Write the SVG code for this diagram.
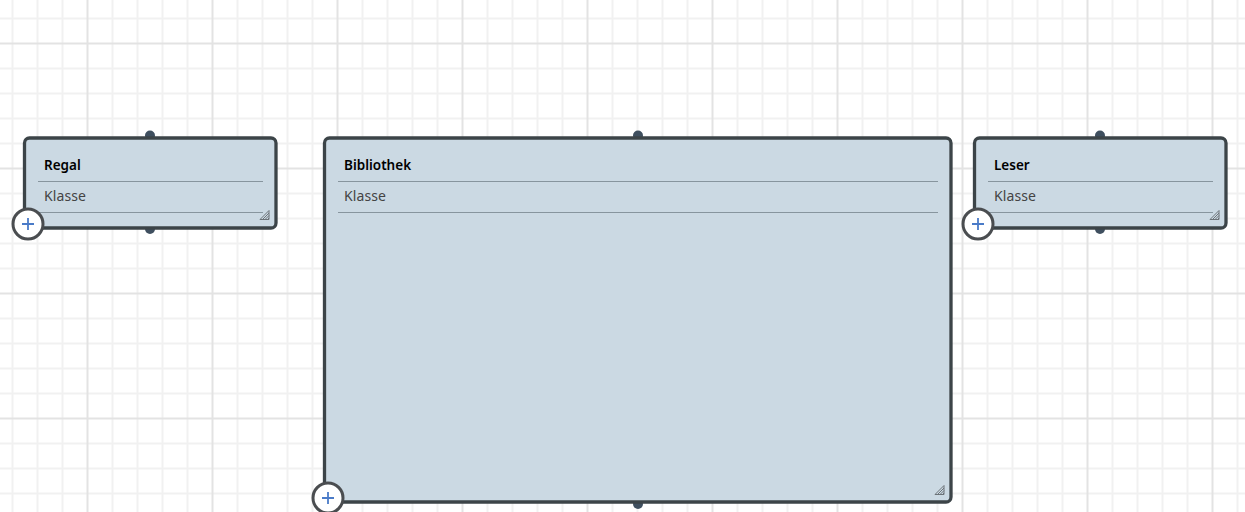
<svg xmlns="http://www.w3.org/2000/svg" width="1245" height="512" viewBox="0 0 1245 512">
<style>
.gm{stroke:#f1f1f1;stroke-width:2;fill:none}
.gM{stroke:#e3e3e3;stroke-width:2;fill:none}
.box{fill:#cbd9e3;stroke:#3c4448;stroke-width:3.300}
.sep{stroke:#87959e;stroke-width:1;fill:none}
.port{fill:#3f4f5f}
.title{font:600 13.500px "Noto Sans","Open Sans",sans-serif;fill:#000}
.kind{font:14px "Noto Sans","Open Sans",sans-serif;fill:#444;letter-spacing:.1px}
.add{fill:#fff;stroke:#4a4d50;stroke-width:3}
.plus{stroke:#4a7bc8;stroke-width:1.800;fill:none}
.grip{fill:none;stroke:#6c7378;stroke-width:1}
</style>
<defs>
<g id="grip"><path class="grip" d="M-9 0L0-9M-6.500 0L0-6.500M-4 0L0-4M-1.500 0L0-1.500M-9 0H0V-9"/></g>
<g id="addBtn"><circle class="add" r="15"/><path class="plus" d="M-6 0H6M0-6V6"/></g>
</defs>
<rect width="1245" height="512" fill="#fff"/>
<g id="grid">
<path class="gm" d="M12.500 0V512M37.500 0V512M62.500 0V512M112.500 0V512M137.500 0V512M162.500 0V512M187.500 0V512M237.500 0V512M262.500 0V512M287.500 0V512M312.500 0V512M362.500 0V512M387.500 0V512M412.500 0V512M437.500 0V512M487.500 0V512M512.500 0V512M537.500 0V512M562.500 0V512M612.500 0V512M637.500 0V512M662.500 0V512M687.500 0V512M737.500 0V512M762.500 0V512M787.500 0V512M812.500 0V512M862.500 0V512M887.500 0V512M912.500 0V512M937.500 0V512M987.500 0V512M1012.500 0V512M1037.500 0V512M1062.500 0V512M1112.500 0V512M1137.500 0V512M1162.500 0V512M1187.500 0V512M1237.500 0V512"/>
<path class="gm" d="M0 18.500H1245M0 68.500H1245M0 93.500H1245M0 118.500H1245M0 143.500H1245M0 193.500H1245M0 218.500H1245M0 243.500H1245M0 268.500H1245M0 318.500H1245M0 343.500H1245M0 368.500H1245M0 393.500H1245M0 443.500H1245M0 468.500H1245M0 493.500H1245"/>
<path class="gM" d="M87.500 0V512M212.500 0V512M337.500 0V512M462.500 0V512M587.500 0V512M712.500 0V512M837.500 0V512M962.500 0V512M1087.500 0V512M1212.500 0V512M0 43.500H1245M0 168.500H1245M0 293.500H1245M0 418.500H1245"/>
</g>
<g id="connectors"></g>
<g id="regal">
<circle class="port" cx="150" cy="135.500" r="5"/><circle class="port" cx="150" cy="229" r="5"/>
<rect class="box" x="24.500" y="138" width="251.500" height="90" rx="5"/>
<text class="title" x="44" y="170">Regal</text>
<path class="sep" d="M38 181.500H263M38 212.500H263"/>
<text class="kind" x="44" y="201">Klasse</text>
<use href="#grip" x="269" y="219.500"/>
<use href="#addBtn" x="28" y="224"/>
</g>
<g id="bibliothek">
<circle class="port" cx="638" cy="135.500" r="5"/><circle class="port" cx="638" cy="504" r="5"/>
<rect class="box" x="324.500" y="138" width="626.500" height="364" rx="5"/>
<text class="title" x="344" y="170">Bibliothek</text>
<path class="sep" d="M338 181.500H938M338 212.500H938"/>
<text class="kind" x="344" y="201">Klasse</text>
<use href="#grip" x="944" y="494.500"/>
<use href="#addBtn" x="328" y="498"/>
</g>
<g id="leser">
<circle class="port" cx="1100" cy="135.500" r="5"/><circle class="port" cx="1100" cy="229" r="5"/>
<rect class="box" x="974.500" y="138" width="251.500" height="90" rx="5"/>
<text class="title" x="994" y="170">Leser</text>
<path class="sep" d="M988 181.500H1213M988 212.500H1213"/>
<text class="kind" x="994" y="201">Klasse</text>
<use href="#grip" x="1219" y="219.500"/>
<use href="#addBtn" x="978" y="224"/>
</g>
</svg>
